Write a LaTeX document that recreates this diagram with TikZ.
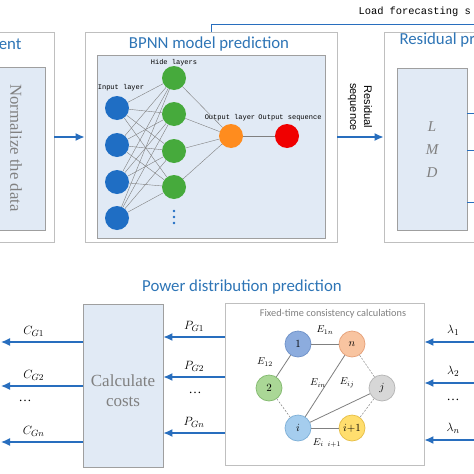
\documentclass[tikz,border=0pt]{standalone}
\usepackage{fontspec}
\setmainfont{Liberation Serif}
\setsansfont{Carlito}
\setmonofont{Liberation Mono}
\newfontfamily\arialfont{Liberation Sans}
\usepackage{tikz}
\usetikzlibrary{arrows, arrows.meta, positioning, shapes}

\definecolor{titleblue}{RGB}{46,117,182}
\definecolor{arrowblue}{RGB}{40,110,190}
\definecolor{boxblue}{RGB}{225,234,245}
\definecolor{inblue}{RGB}{31,110,196}
\definecolor{hidgreen}{RGB}{70,170,60}
\definecolor{outorange}{RGB}{255,140,30}
\definecolor{seqred}{RGB}{240,0,0}
\definecolor{aonefill}{RGB}{140,172,222}
\definecolor{aoneline}{RGB}{110,145,200}
\definecolor{anfill}{RGB}{248,196,160}
\definecolor{anline}{RGB}{230,160,120}
\definecolor{atwofill}{RGB}{170,215,150}
\definecolor{atwoline}{RGB}{130,185,110}
\definecolor{ajfill}{RGB}{215,215,215}
\definecolor{ajline}{RGB}{180,180,180}
\definecolor{aifill}{RGB}{165,205,238}
\definecolor{ailine}{RGB}{125,175,215}
\definecolor{anextfill}{RGB}{255,222,110}
\definecolor{anextline}{RGB}{230,190,70}

\begin{document}
\begin{tikzpicture}[x=1pt, y=-1pt,
  box/.style={draw=gray!50, fill=white, line width=0.8pt, inner sep=0pt},
  inbox/.style={draw=gray!75, fill=boxblue, line width=0.8pt, inner sep=0pt},
  title/.style={font=\sffamily\fontsize{16.8}{17}\selectfont, text=titleblue},
  neuron/.style={circle, minimum size=24pt, inner sep=0pt},
  tag/.style={font=\ttfamily\fontsize{7}{7}\selectfont},
  syn/.style={draw=gray, line width=0.4pt},
  flow/.style={draw=arrowblue, line width=1.3pt, -{Latex[length=9pt, width=8pt]}},
  feed/.style={draw=arrowblue, line width=1pt},
  agent/.style={circle, minimum size=26pt, inner sep=0pt, line width=0.7pt, font=\fontsize{11}{11}\selectfont},
  link/.style={draw=gray, line width=0.8pt},
  loose/.style={draw=gray, line width=0.5pt, dash pattern=on 2pt off 1.5pt},
  lab/.style={font=\fontsize{13}{13}\selectfont},
  elab/.style={font=\fontsize{10}{10}\selectfont},
]

\useasboundingbox (0,0) rectangle (474,474);
\clip (0,0) rectangle (474,474);

% top row: preprocessing, BPNN, residual
\node [box, minimum width=74pt, minimum height=210pt] (prep) at (17,137) {};
\node [inbox, minimum width=65pt, minimum height=163pt] (prepin) at (12.5,148.5) {};
\node [title, anchor=east] (prept) at (25,44) {ent};
\node [rotate=-90, text=gray, font=\fontsize{16.7}{17}\selectfont] (norm) at (16,148) {Normalize the data};

\node [box, minimum width=252pt, minimum height=210pt] (bpnn) at (211,137) {};
\node [inbox, minimum width=228pt, minimum height=183pt] (bpnnin) at (211,146.5) {};
\node [title] (bpnnt) at (209,44) {BPNN model prediction};

\foreach \k/\y in {1/108, 2/145, 3/182, 4/218}
  \node [neuron, fill=inblue] (in\k) at (117,\y) {};
\foreach \k/\y in {1/78, 2/114, 3/151, 4/187}
  \node [neuron, fill=hidgreen] (hid\k) at (174,\y) {};
\node [neuron, fill=outorange] (out) at (231,136) {};
\node [neuron, fill=seqred] (seq) at (287,136) {};
\foreach \y in {211, 217, 223}
  \fill [inblue] (174,\y) circle (1.4pt);

\foreach \a in {1,...,4}
  \foreach \b in {1,...,4}
    \draw [syn] (in\a) -- (hid\b);
\foreach \b in {1,...,4}
  \draw [syn] (hid\b) -- (out);
\draw [syn] (out) -- (seq);

\node [tag] (intag) at (121,88) {Input layer};
\node [tag] (hidtag) at (174,63) {Hide layers};
\node [tag] (outtag) at (230,118) {Output layer};
\node [tag] (seqtag) at (290,118) {Output sequence};

\node [box, minimum width=160pt, minimum height=210pt] (resid) at (464,137) {};
\node [inbox, minimum width=70pt, minimum height=162pt] (lmd) at (432,149) {};
\node [title, anchor=west] (residt) at (396,40) {Residual pr};
\node [text=gray, align=center, font=\itshape\fontsize{15}{23}\selectfont] (lmdt) at (432,150) {L\\M\\D};

\path (prep) edge [flow] (bpnn);
\path (bpnn) edge [flow] (resid);
\node [rotate=-90, align=center, font=\arialfont\fontsize{11}{14}\selectfont] (rest) at (360,107) {Residual\\sequence};

\coordinate (load) at (490,24);
\draw [feed] (bpnn.north) |- (load);
\node [anchor=west, font=\ttfamily\fontsize{10.4}{11}\selectfont] (loadt) at (355,12) {Load forecasting s};

\foreach \k/\y in {1/113, 2/150, 3/202} {
  \coordinate (imf\k) at (490,\y);
  \draw [feed] (lmd.east |- imf\k) -- (imf\k);
}

% bottom row: costs and power distribution
\node [title] (powert) at (242,287) {Power distribution prediction};
\node [inbox, minimum width=80pt, minimum height=163pt] (calc) at (123,385.5) {};
\node [text=gray, align=center, font=\fontsize{17}{20}\selectfont] (calct) at (123,391) {Calculate\\costs};
\node [box, minimum width=199pt, minimum height=162pt] (fixed) at (324.5,384) {};
\node [text=gray, font=\sffamily\fontsize{10.3}{11}\selectfont] (fixedt) at (333,314) {Fixed-time consistency calculations};

\foreach \k/\y/\t in {1/337/1, 2/377/2, 3/433/n} {
  \coordinate (p\k) at (0,\y);
  \path (fixed.west |- p\k) edge [flow] node [lab, above=2pt] {$P_{G\t}$} (calc.east |- p\k);
}
\node [lab] (pdots) at (195,393) {\dots};

\foreach \k/\y/\t in {1/342/1, 2/386/2, 3/442/n} {
  \coordinate (c\k) at (1,\y);
  \path (calc.west |- c\k) edge [flow] node [lab, above=2pt, pos=0.6] {$C_{G\t}$} (c\k);
}
\node [lab] (cdots) at (25,401) {\dots};

\foreach \k/\y/\t in {1/342/1, 2/383/2, 3/440/n} {
  \coordinate (l\k) at (482,\y);
  \path (l\k) edge [flow] node [lab, above=3pt, pos=0.5] {$\lambda_\t$} (fixed.east |- l\k);
}
\node [lab] (ldots) at (453,400) {\dots};

% consistency graph
\node [agent, fill=aonefill, draw=aoneline] (1) at (298,344) {$1$};
\node [agent, fill=anfill, draw=anline] (n) at (352,344) {$n$};
\node [agent, fill=atwofill, draw=atwoline] (2) at (269,388) {$2$};
\node [agent, fill=ajfill, draw=ajline] (j) at (382,388) {$j$};
\node [agent, fill=aifill, draw=ailine] (i) at (298,428) {$i$};
\node [agent, fill=anextfill, draw=anextline] (i1) at (352,428) {$i{+}1$};

\draw [link] (1) -- (n);
\draw [link] (1) -- (2);
\draw [link] (i) -- (n);
\draw [link] (i) -- (j);
\draw [link] (i) -- (i1);
\draw [loose] (2) -- (i);
\draw [loose] (n) -- (j);
\draw [loose] (j) -- (i1);

\node [elab] (e1n) at (325,330) {$E_{1n}$};
\node [elab] (e12) at (265,362) {$E_{12}$};
\node [elab] (ein) at (318,383) {$E_{in}$};
\node [elab] (eij) at (347,383) {$E_{ij}$};
\node [elab] (eii) at (327,443) {$E_{i\;\;i+1}$};

\end{tikzpicture}
\end{document}
